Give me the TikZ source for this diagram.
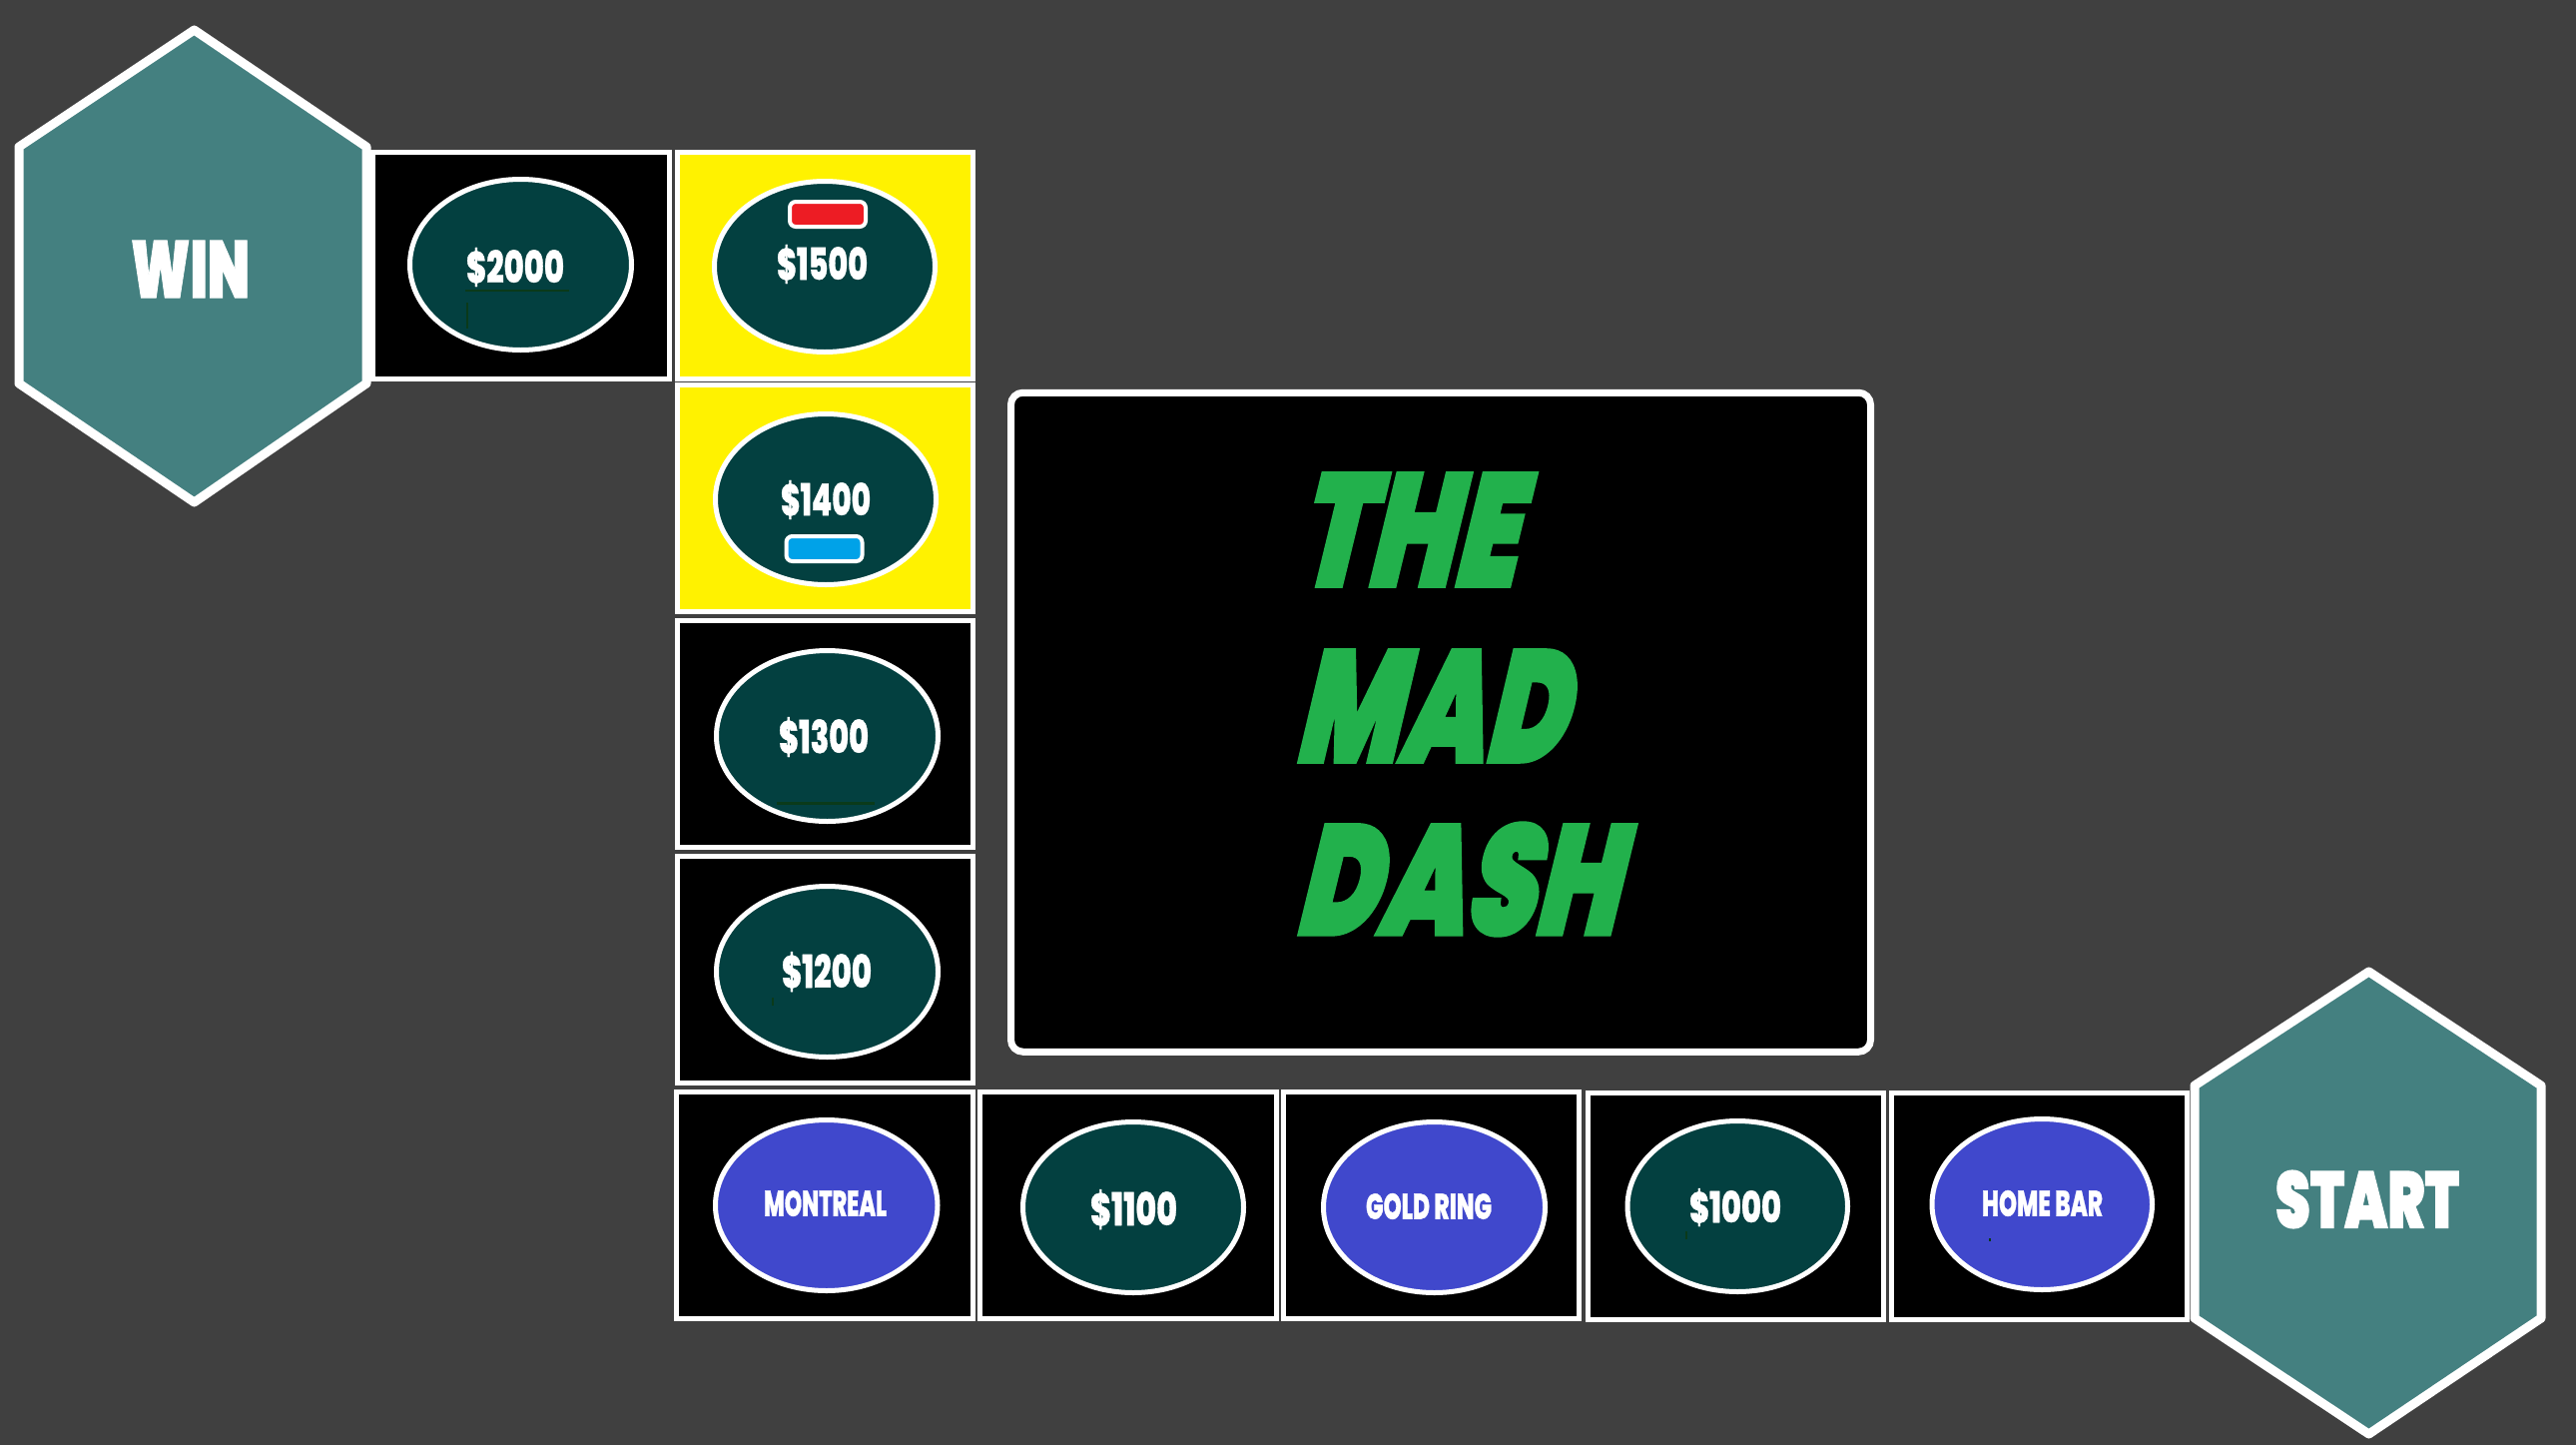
\documentclass[tikz,border=0pt]{standalone}
\usepackage{fontspec}
\usepackage{graphicx}
\newfontfamily\impactfont[FakeBold=1.5]{Poppins Black}
\newfontfamily\moneyfont[FakeBold=1]{Poppins ExtraBold}
\newfontfamily\impactslant[FakeBold=2.2,FakeSlant=0.34]{Poppins Black}
\definecolor{bgc}{HTML}{404040}
\definecolor{hexc}{HTML}{448080}
\definecolor{dark}{HTML}{034040}
\definecolor{royal}{HTML}{4048CC}
\definecolor{yel}{HTML}{FFF200}
\definecolor{redc}{HTML}{ED1C24}
\definecolor{bluec}{HTML}{00A2E8}
\definecolor{grn}{HTML}{22B14C}
\definecolor{stray}{HTML}{0A3A1A}
\tikzset{
  spot/.style={draw=white,line width=2.5pt,inner sep=0pt,rectangle},
  oval/.style={draw=white,line width=2.5pt,inner sep=0pt,ellipse},
  hexa/.style={draw=white,line width=4.5pt,fill=hexc,line join=round},
  chip/.style={draw=white,line width=2pt,rounded corners=3pt},
  label/.style={inner sep=0pt,outer sep=0pt,text=white,anchor=south west},
  title/.style={inner sep=0pt,outer sep=0pt,text=grn,anchor=south west},
  straymark/.style={draw=stray,line width=1pt},
}
\usetikzlibrary{shapes.geometric}
% #1 name, #2-#5 outer x1,y1,x2,y2, #6 style
\newcommand{\placeshape}[6]{%
  \pgfmathsetmacro{\pw}{(#4-#2-5)*0.5}%
  \pgfmathsetmacro{\ph}{(#5-#3-5)*0.5}%
  \node[#6,minimum width=\pw pt,minimum height=\ph pt] (#1) at ({(#2+#4)/2},{(#3+#5)/2}) {};}
% #1 name, #2 x left, #3 y baseline/bottom, #4 w, #5 h, #6 style, #7 text
\newcommand{\fittext}[7]{%
  \pgfmathsetmacro{\pw}{(#4)*0.5}%
  \pgfmathsetmacro{\ph}{(#5)*0.5}%
  \node[#6] (#1) at (#2,#3) {\resizebox*{\pw pt}{\ph pt}{#7}};}
\begin{document}
\begin{tikzpicture}[x=0.5pt,y=-0.5pt]
\useasboundingbox (0,0) rectangle (2580,1446);
\fill[bgc] (-6,-6) rectangle (2586,1452);
% hexagons
\draw[hexa] (194.5,30) -- (367,147) -- (367,384) -- (194.5,503) -- (19,384) -- (19,147) -- cycle;
\draw[hexa] (2372.5,973) -- (2545,1087) -- (2545,1320) -- (2372.5,1436) -- (2198,1320) -- (2198,1087) -- cycle;
\fittext{win}{131}{298}{119}{57}{label}{\impactfont WIN}
\fittext{start}{2279}{1230}{184}{58}{label}{\impactfont START}
% squares
\placeshape{s2000}{371}{150}{673}{382}{spot,fill=black}
\placeshape{s1500}{676}{150}{977}{382}{spot,fill=yel}
\placeshape{s1400}{676}{383}{977}{615}{spot,fill=yel}
\placeshape{s1300}{676}{619}{977}{851}{spot,fill=black}
\placeshape{s1200}{676}{855}{977}{1087}{spot,fill=black}
\placeshape{smon}{675}{1091}{976.5}{1323}{spot,fill=black}
\placeshape{s1100}{979}{1091}{1281}{1323}{spot,fill=black}
\placeshape{sgold}{1283}{1091}{1584}{1323}{spot,fill=black}
\placeshape{s1000}{1588}{1092}{1889}{1324}{spot,fill=black}
\placeshape{shome}{1892}{1092}{2192.5}{1324}{spot,fill=black}
% ovals
\placeshape{o2000}{408}{177}{635}{353}{oval,fill=dark}
\placeshape{o1500}{713}{179}{939}{355}{oval,fill=dark}
\placeshape{o1400}{714}{412}{940}{588}{oval,fill=dark}
\placeshape{o1300}{715}{649}{942}{825}{oval,fill=dark}
\placeshape{o1200}{715}{885}{942}{1061}{oval,fill=dark}
\placeshape{omon}{714}{1119}{941.5}{1295}{oval,fill=royal}
\placeshape{o1100}{1022}{1121}{1248}{1297}{oval,fill=dark}
\placeshape{ogold}{1323}{1121}{1550}{1297}{oval,fill=royal}
\placeshape{o1000}{1627.5}{1120}{1853}{1296}{oval,fill=dark}
\placeshape{ohome}{1932.5}{1118}{2158}{1294}{oval,fill=royal}
% chips
\draw[chip,fill=redc] (791,202) rectangle (867,227);
\draw[chip,fill=bluec] (787.5,537) rectangle (863.5,562);
% labels
\fittext{t2000}{467}{287}{98}{39}{label}{\moneyfont\$2000}
\fittext{t1500}{778}{284}{91}{39}{label}{\moneyfont\$1500}
\fittext{t1400}{782}{520}{90}{39}{label}{\moneyfont\$1400}
\fittext{t1300}{780}{758}{90}{40}{label}{\moneyfont\$1300}
\fittext{t1200}{783}{993}{90}{40}{label}{\moneyfont\$1200}
\fittext{tmon}{765}{1218}{123}{26}{label}{\moneyfont MONTREAL}
\fittext{t1100}{1092}{1231}{87}{40}{label}{\moneyfont\$1100}
\fittext{tgold}{1368}{1221}{126}{26}{label}{\moneyfont GOLD RING}
\fittext{t1000}{1692}{1228}{92}{38}{label}{\moneyfont\$1000}
\fittext{thome}{1985}{1218}{121}{26}{label}{\moneyfont HOME BAR}
% main panel
\node[draw=white,line width=3.5pt,fill=black,rounded corners=6pt,inner sep=0pt,minimum width=430.5pt,minimum height=330pt] (panel) at (1443,723.25) {};
\fittext{tthe}{1296}{587}{220}{113}{title}{\impactslant THE}
\fittext{tmad}{1295}{763}{271}{112}{title}{\impactslant MAD}
\fittext{tdash}{1295}{937}{323}{113}{title}{\impactslant DASH}
% stray marks
\draw[straymark] (466,291) -- (570,291);
\draw[straymark] (467.5,303) -- (467.5,329);
\draw[straymark,line width=1.5pt] (778,804) -- (876,804);
\draw[straymark] (774,999) -- (774,1007);
\draw[straymark] (1689,1233) -- (1689,1241);
\draw[straymark] (1992.5,1240) -- (1992.5,1243);
\end{tikzpicture}
\end{document}
